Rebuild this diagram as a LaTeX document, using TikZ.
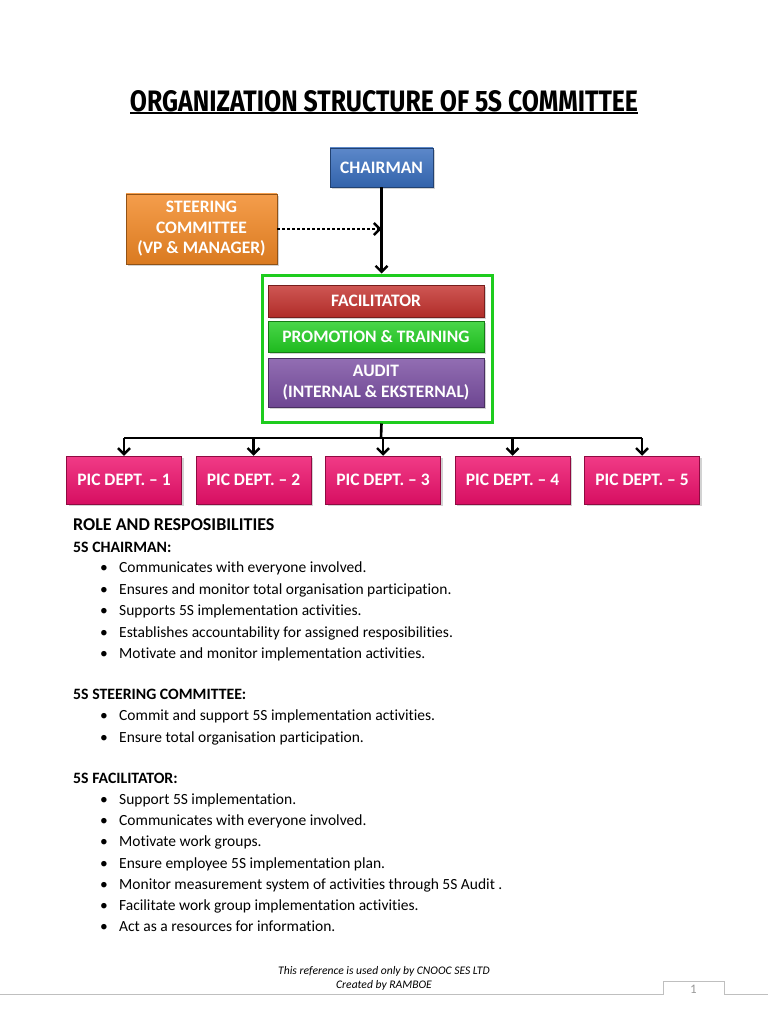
\documentclass[tikz,border=0pt]{standalone}
\usepackage{fontspec}
\setmainfont{Carlito}[Ligatures={TeX,NoCommon}]
\newfontfamily\titlefont{Fira Sans}
\usepackage{graphicx}
\usepackage{tikz}
\usetikzlibrary{arrows.meta,shadows,positioning}

\definecolor{chairblue}{RGB}{56,110,190}
\definecolor{steerorange}{RGB}{242,136,36}
\definecolor{facred}{RGB}{196,50,46}
\definecolor{promogreen}{RGB}{34,206,34}
\definecolor{auditpurple}{RGB}{122,78,162}
\definecolor{deptpink}{RGB}{238,16,108}
\definecolor{framegreen}{RGB}{30,204,30}

\begin{document}
\begin{tikzpicture}[x=1pt,y=-1pt,>={Straight Barb[length=6pt,width=12pt,line width=2.4pt]},
    box/.style={draw=#1!60!black,line width=0.5pt,top color=#1!82!white,bottom color=#1!90!black,
      drop shadow={shadow xshift=2pt,shadow yshift=-2pt,opacity=0.35},text=white,
      font=\bfseries\fontsize{17.5}{20.5}\selectfont,align=center,inner sep=0pt},
    link/.style={draw=black,line width=2.6pt},
    head/.style={anchor=base west,inner sep=0pt,font=\bfseries\fontsize{15.8}{18}\selectfont},
    item/.style={anchor=base west,inner sep=0pt,font=\fontsize{15.5}{18}\selectfont},
    dot/.style={anchor=base,inner sep=0pt,font=\fontsize{15.5}{18}\selectfont}]
    \useasboundingbox (0,0) rectangle (768,1024);
    \fill[white] (0,0) rectangle (768,1024);

    \node[inner sep=0pt] (title) at (384,101) {\titlefont\bfseries\resizebox{508pt}{21pt}{ORGANIZATION STRUCTURE OF 5S COMMITTEE}};
    \draw[line width=1.8pt] (130,113) -- (638,113);

    \node[box=chairblue,minimum width=103pt,minimum height=39pt] (chair) at (381.5,167.5) {CHAIRMAN};
    \node[box=steerorange,minimum width=151pt,minimum height=70pt] (steer) at (201.5,229) {STEERING\\COMMITTEE\\(VP \& MANAGER)};
    \node[draw=framegreen,line width=3pt,fill=white,minimum width=230pt,minimum height=147pt] (frame) at (377,348.5) {};
    \node[box=facred,minimum width=216pt,minimum height=32pt] (fac) at (376,301) {FACILITATOR};
    \node[box=promogreen,minimum width=216pt,minimum height=31pt] (promo) at (376,336.5) {PROMOTION \& TRAINING};
    \node[box=auditpurple,minimum width=216pt,minimum height=49pt] (audit) at (376,382.5) {AUDIT\\(INTERNAL \& EKSTERNAL)};
    \foreach \i/\x in {1/124,2/253.5,3/383,4/512.5,5/642}
        \node[box=deptpink,minimum width=115pt,minimum height=48pt] (d\i) at (\x,480) {PIC DEPT. – \i};

    \coordinate (bus) at (381,438);
    \draw[link,->] (chair.south) -- (chair.south |- frame.north);
    \draw[link,->,dash pattern=on 2.6pt off 2.4pt] (steer.east) -- (steer.east -| chair.south);
    \draw[link] (chair.south |- frame.south) -- (bus);
    \draw[link] (bus -| d1) -- (bus -| d5);
    \foreach \i in {1,...,5}
        \draw[link,->] (bus -| d\i) -- (d\i.north);

    \node[anchor=base west,inner sep=0pt,font=\bfseries\fontsize{18}{20}\selectfont] (role) at (73,530) {ROLE AND RESPOSIBILITIES};
    \node[head] (h1) at (73,552) {5S CHAIRMAN:};
    \foreach \t [count=\k from 0] in {Communicates with everyone involved.,
        Ensures and monitor total organisation participation.,
        Supports 5S implementation activities.,
        Establishes accountability for assigned resposibilities.,
        Motivate and monitor implementation activities.}
    {
        \node[dot] (b1\k) at (104,572.5+21.5*\k) {•};
        \node[item] (c\k) at (119,572.5+21.5*\k) {\t};
    }
    \node[head] (h2) at (73,699) {5S STEERING COMMITTEE:};
    \foreach \t [count=\k from 0] in {Commit and support 5S implementation activities.,
        Ensure total organisation participation.}
    {
        \node[dot] (b2\k) at (104,720.5+21.5*\k) {•};
        \node[item] (s\k) at (119,720.5+21.5*\k) {\t};
    }
    \node[head] (h3) at (73,783) {5S FACILITATOR:};
    \foreach \t [count=\k from 0] in {Support 5S implementation.,
        Communicates with everyone involved.,
        Motivate work groups.,
        Ensure employee 5S implementation plan.,
        Monitor measurement system of activities through 5S Audit .,
        Facilitate work group implementation activities.,
        Act as a resources for information.}
    {
        \node[dot] (b3\k) at (104,804.5+21.2*\k) {•};
        \node[item] (f\k) at (119,804.5+21.2*\k) {\t};
    }

    \node[align=center,inner sep=0pt,font=\itshape\fontsize{11.6}{14}\selectfont] (foot) at (384,978) {This reference is used only by CNOOC SES LTD\\Created by RAMBOE};
    \draw[black!25,line width=1pt] (0,994) -- (663,994) -- (663,981) -- (724,981) -- (724,994) -- (768,994);
    \node[text=black!40,font=\fontsize{13}{15}\selectfont] (page) at (693.5,989) {1};
\end{tikzpicture}
\end{document}
